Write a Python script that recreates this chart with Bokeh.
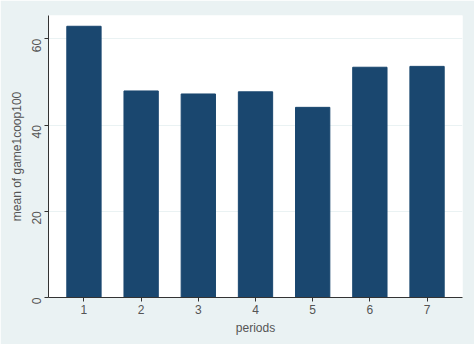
from bokeh.plotting import figure
from bokeh.models import Range1d, FixedTicker
from bokeh.embed import file_html
from bokeh.resources import INLINE
import math

periods = [1, 2, 3, 4, 5, 6, 7]
means = [62.9, 47.9, 47.2, 47.7, 44.1, 53.4, 53.6]
y_ticks = [0, 20, 40, 60]

BG = "#eaf2f3"
BAR = "#1a476f"
FONT = "Liberation Sans"

p = figure(width=474, height=344, output_backend="svg", toolbar_location=None,
           x_range=Range1d(0.38, 7.62), y_range=Range1d(0, 65.4))
p.min_border_left = 48
p.min_border_right = 12
p.min_border_top = 15
p.min_border_bottom = 47
p.background_fill_color = "white"
p.border_fill_color = BG
p.outline_line_color = None

p.vbar(x=periods, top=means, width=0.6, fill_color=BAR, line_color=BAR)

p.xaxis.ticker = FixedTicker(ticks=periods)
p.yaxis.ticker = FixedTicker(ticks=y_ticks)
p.xgrid.grid_line_color = None
p.ygrid.grid_line_color = BG
p.ygrid.grid_line_width = 1

for ax in (p.xaxis[0], p.yaxis[0]):
    ax.axis_line_color = "#333333"
    ax.major_tick_line_color = "#333333"
    ax.major_tick_out = 4
    ax.major_tick_in = 0
    ax.minor_tick_line_color = None
    ax.major_label_text_font = FONT
    ax.major_label_text_font_size = "12px"
    ax.major_label_text_color = "#555555"
    ax.axis_label_text_font = FONT
    ax.axis_label_text_font_size = "12px"
    ax.axis_label_text_font_style = "normal"
    ax.axis_label_text_color = "#555555"

p.xaxis.axis_label = "periods"
p.yaxis.axis_label = "mean of game1coop100"
p.yaxis.major_label_orientation = math.pi / 2
p.xaxis.major_label_standoff = 3
p.xaxis.axis_label_standoff = 4
p.yaxis.major_label_standoff = 8
p.yaxis.axis_label_standoff = 1

open("out.html", "w").write(file_html(p, INLINE))
